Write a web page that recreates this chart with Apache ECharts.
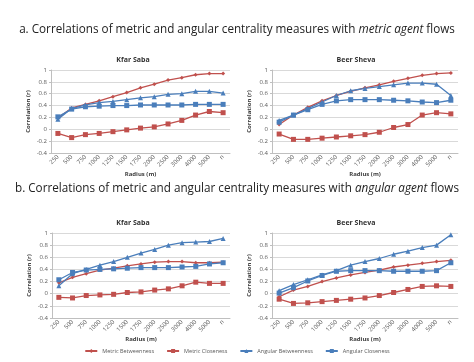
<!DOCTYPE html>
<html><head><meta charset="utf-8">
<script src="https://cdn.jsdelivr.net/npm/echarts@6/dist/echarts.min.js"></script>
<style>html,body{margin:0;padding:0;background:#fff}#c{width:474px;height:362px}</style>
</head><body><div id="c"></div>
<script>
var categories = ['250','500','750','1000','1250','1500','1750','2000','2500','3000','4000','5000','n'];
var yTicks = [-0.4, -0.2, 0, 0.2, 0.4, 0.6, 0.8, 1];
var seriesNames = ['Metric Betweenness','Metric Closeness','Angular Betweenness','Angular Closeness'];
var panelTitles = ['Kfar Saba','Beer Sheva','Kfar Saba','Beer Sheva'];

// a. metric agent flows – Kfar Saba
var aKS_metricBetw = [0.19,0.36,0.42,0.48,0.55,0.62,0.70,0.76,0.83,0.87,0.92,0.94,0.94];
var aKS_metricClos = [-0.07,-0.14,-0.09,-0.07,-0.04,-0.01,0.02,0.04,0.09,0.15,0.24,0.30,0.28];
var aKS_angBetw = [0.17,0.35,0.41,0.45,0.47,0.50,0.53,0.55,0.59,0.60,0.64,0.64,0.61];
var aKS_angClos = [0.21,0.34,0.38,0.39,0.40,0.40,0.41,0.41,0.41,0.41,0.42,0.42,0.42];
// a. metric agent flows – Beer Sheva
var aBS_metricBetw = [0.08,0.24,0.37,0.48,0.57,0.64,0.70,0.75,0.81,0.86,0.91,0.94,0.95];
var aBS_metricClos = [-0.08,-0.17,-0.17,-0.15,-0.13,-0.11,-0.09,-0.05,0.03,0.08,0.24,0.28,0.26];
var aBS_angBetw = [0.15,0.24,0.35,0.46,0.57,0.65,0.69,0.72,0.75,0.78,0.78,0.76,0.57];
var aBS_angClos = [0.12,0.24,0.33,0.42,0.48,0.50,0.50,0.50,0.49,0.48,0.46,0.45,0.49];
// b. angular agent flows – Kfar Saba
var bKS_metricBetw = [0.18,0.27,0.33,0.39,0.42,0.46,0.49,0.52,0.53,0.53,0.51,0.51,0.52];
var bKS_metricClos = [-0.06,-0.07,-0.03,-0.02,-0.01,0.02,0.03,0.06,0.08,0.13,0.19,0.17,0.17];
var bKS_angBetw = [0.13,0.33,0.40,0.47,0.53,0.60,0.67,0.73,0.80,0.84,0.85,0.86,0.91];
var bKS_angClos = [0.23,0.35,0.39,0.40,0.41,0.42,0.43,0.43,0.43,0.44,0.45,0.49,0.51];
// b. angular agent flows – Beer Sheva
var bBS_metricBetw = [-0.05,0.06,0.12,0.20,0.26,0.31,0.35,0.39,0.44,0.47,0.50,0.53,0.55];
var bBS_metricClos = [-0.09,-0.16,-0.15,-0.13,-0.11,-0.09,-0.07,-0.03,0.02,0.07,0.12,0.13,0.12];
var bBS_angBetw = [0.05,0.15,0.23,0.31,0.38,0.47,0.53,0.58,0.65,0.70,0.76,0.80,0.97];
var bBS_angClos = [0.01,0.10,0.21,0.30,0.37,0.38,0.38,0.38,0.37,0.37,0.37,0.38,0.51];

var panels = [
  [aKS_metricBetw, aKS_metricClos, aKS_angBetw, aKS_angClos],
  [aBS_metricBetw, aBS_metricClos, aBS_angBetw, aBS_angClos],
  [bKS_metricBetw, bKS_metricClos, bKS_angBetw, bKS_angClos],
  [bBS_metricBetw, bBS_metricClos, bBS_angBetw, bBS_angClos]
];

var RED = '#c0504d', BLUE = '#4a7ebb';
var styles = [
  {color: RED, symbol: 'diamond', symbolSize: 4},
  {color: RED, symbol: 'rect', symbolSize: 5},
  {color: BLUE, symbol: 'triangle', symbolSize: 5},
  {color: BLUE, symbol: 'rect', symbolSize: 5}
];

var FONT = 'Open Sans';
var grids = [
  {left: 51, top: 70, width: 179, height: 83},
  {left: 272, top: 70, width: 186, height: 83},
  {left: 52, top: 233, width: 178, height: 85},
  {left: 272, top: 233, width: 186, height: 85}
];

var xAxes = [], yAxes = [], series = [];
grids.forEach(function (g, i) {
  xAxes.push({
    type: 'category', gridIndex: i, data: categories, boundaryGap: true,
    name: 'Radius (m)', nameLocation: 'middle', nameGap: 16,
    nameTextStyle: {fontSize: 6, fontWeight: 'bold', color: '#404040', fontFamily: FONT},
    axisLine: {onZero: false, lineStyle: {color: '#bfbfbf'}},
    axisTick: {show: false},
    axisLabel: {rotate: 45, fontSize: 6, color: '#595959', margin: 3, interval: 0, fontFamily: FONT},
    splitLine: {show: false}
  });
  yAxes.push({
    type: 'value', gridIndex: i, min: yTicks[0], max: yTicks[yTicks.length - 1], interval: 0.2,
    name: 'Correlation (r)', nameLocation: 'middle', nameGap: 20, nameRotate: 90,
    nameTextStyle: {fontSize: 6, fontWeight: 'bold', color: '#404040', fontFamily: FONT},
    axisLine: {show: true, lineStyle: {color: '#bfbfbf'}},
    axisTick: {show: true, length: 2, lineStyle: {color: '#bfbfbf'}},
    axisLabel: {fontSize: 6, color: '#595959', margin: 4, fontFamily: FONT,
      formatter: function (v) { return String(Math.round(v * 10) / 10); }},
    splitLine: {show: true, lineStyle: {color: '#d9d9d9', width: 1}}
  });
  panels[i].forEach(function (vals, k) {
    series.push({
      name: seriesNames[k], type: 'line', xAxisIndex: i, yAxisIndex: i,
      data: vals, symbol: styles[k].symbol, symbolSize: styles[k].symbolSize,
      showSymbol: true, animation: false,
      itemStyle: {color: styles[k].color},
      lineStyle: {color: styles[k].color, width: 1.3}
    });
  });
});

var titles = [
  {text: '{n|a. Correlations of metric and angular centrality measures with }{i|metric agent}{n| flows}',
   left: 'center', top: 19},
  {text: '{n|b. Correlations of metric and angular centrality measures with }{i|angular agent}{n| flows}',
   left: 'center', top: 178}
].map(function (t) {
  t.textStyle = {fontWeight: 'normal', rich: {
    n: {fontSize: 11.7, color: '#222', fontWeight: 'normal', fontFamily: FONT},
    i: {fontSize: 11.7, color: '#222', fontWeight: 'normal', fontStyle: 'italic', fontFamily: FONT}
  }};
  return t;
});
var subCenters = [[128, 51], [351, 51], [128, 214], [351, 214]];
panelTitles.forEach(function (p, i) {
  titles.push({text: p, left: subCenters[i][0], top: subCenters[i][1], textAlign: 'center',
    textStyle: {fontSize: 7, fontWeight: 'bold', color: '#333', fontFamily: FONT}});
});

var chart = echarts.init(document.getElementById('c'), null, {renderer: 'canvas'});
chart.setOption({
  backgroundColor: '#fff',
  animation: false,
  title: titles,
  grid: grids,
  xAxis: xAxes,
  yAxis: yAxes,
  legend: {
    data: seriesNames, bottom: 3, left: 'center', itemWidth: 12, itemHeight: 5, itemGap: 12,
    textStyle: {fontSize: 5.5, color: '#595959', fontFamily: FONT}
  },
  series: series
});
</script></body></html>
